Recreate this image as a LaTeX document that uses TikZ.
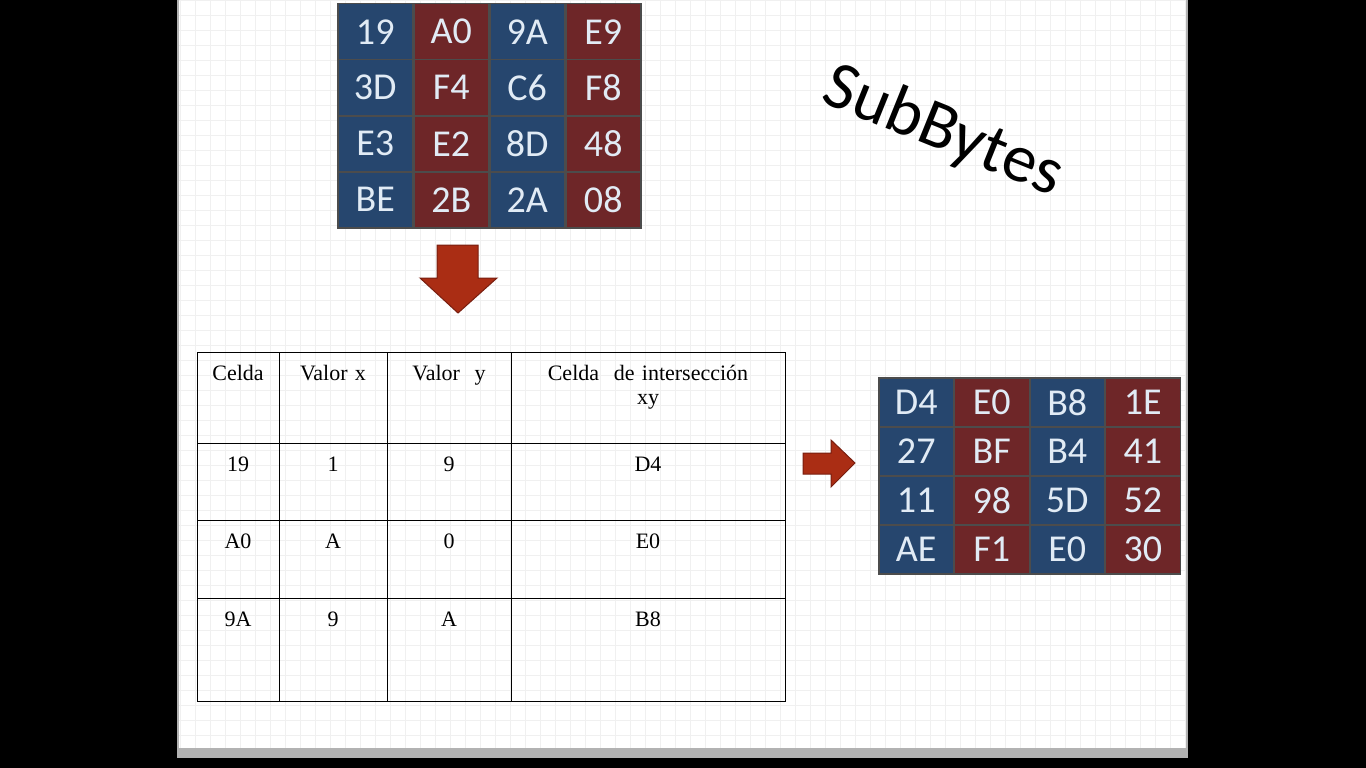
\documentclass[tikz,border=0pt]{standalone}
\usepackage{fontspec}
\setmainfont{Liberation Serif}
\newfontfamily\cellfont{Carlito}
\begin{document}
\begin{tikzpicture}[x=1pt,y=-1pt,
  bcell/.style={draw=black!70,line width=1.5pt,fill={rgb,255:red,38;green,70;blue,110},text={rgb,255:red,225;green,235;blue,245},minimum width=75pt,anchor=north west,inner sep=0pt,font=\cellfont\fontsize{38}{38}\selectfont},
  rcell/.style={bcell,fill={rgb,255:red,110;green,38;blue,40}},
  tcell/.style={font=\fontsize{22}{24}\selectfont,text width=#1,align=center,inner sep=0pt},
  arr/.style={fill={rgb,255:red,170;green,45;blue,20},draw={rgb,255:red,120;green,30;blue,15},line width=1pt}]
\useasboundingbox (0,0) rectangle (1366,768);
\fill[black] (0,0) rectangle (1366,768);
\fill[gray!60] (177,0) rectangle (1188,758);
\fill[white] (179,0) rectangle (1186,748);
\draw[black!6,step=15pt] (179,0) grid (1186,748);
% top matrix
\foreach \r/\a/\b/\c/\d [count=\i from 0] in {0/19/A0/9A/E9,1/3D/F4/C6/F8,2/E3/E2/8D/48,3/BE/2B/2A/08}{
  \node[bcell,minimum height=56pt] (t\i a) at (337,3+56*\i) {\a};
  \node[rcell,minimum height=56pt] (t\i b) at (413,3+56*\i) {\b};
  \node[bcell,minimum height=56pt] (t\i c) at (489,3+56*\i) {\c};
  \node[rcell,minimum height=56pt] (t\i d) at (565,3+56*\i) {\d};
}
% down arrow
\draw[arr] (437,245) -- (478,245) -- (478,278) -- (497,278) -- (458,313) -- (420,278) -- (437,278) -- cycle;
% table
\draw[black,line width=0.8pt] (197,352) rectangle (785,701);
\foreach \x in {279,387,511} \draw[line width=0.8pt] (\x,352) -- (\x,701);
\foreach \y in {443,520,598} \draw[line width=0.8pt] (197,\y) -- (785,\y);
\node[tcell=80pt,anchor=north] (h1) at (238,365) {Celda};
\node[tcell=100pt,anchor=north] (h2) at (333,365) {Valor x};
\node[tcell=120pt,anchor=north] (h3) at (449,365) {Valor\ \ y};
\node[tcell=270pt,anchor=north] (h4) at (648,365) {Celda\ \ de intersección\\xy};
\foreach \y/\a/\b/\c/\d [count=\i] in {457/19/1/9/D4,534/A0/A/0/E0,612/9A/9/A/B8}{
  \node[tcell=80pt,anchor=north] (c\i a) at (238,\y) {\a};
  \node[tcell=80pt,anchor=north] (c\i b) at (333,\y) {\b};
  \node[tcell=80pt,anchor=north] (c\i c) at (449,\y) {\c};
  \node[tcell=80pt,anchor=north] (c\i d) at (648,\y) {\d};
}
% right arrow
\draw[arr] (803,453) -- (831,453) -- (831,440) -- (855,463) -- (831,487) -- (831,474) -- (803,474) -- cycle;
% right matrix
\foreach \a/\b/\c/\d [count=\i from 0] in {D4/E0/B8/1E,27/BF/B4/41,11/98/5D/52,AE/F1/E0/30}{
  \node[bcell,minimum height=49pt] (s\i a) at (878,377+49*\i) {\a};
  \node[rcell,minimum height=49pt] (s\i b) at (953.5,377+49*\i) {\b};
  \node[bcell,minimum height=49pt] (s\i c) at (1029,377+49*\i) {\c};
  \node[rcell,minimum height=49pt] (s\i d) at (1104.5,377+49*\i) {\d};
}
\node[font=\cellfont\fontsize{68}{68}\selectfont,rotate=-22] (title) at (943,132) {SubBytes};
\end{tikzpicture}
\end{document}
